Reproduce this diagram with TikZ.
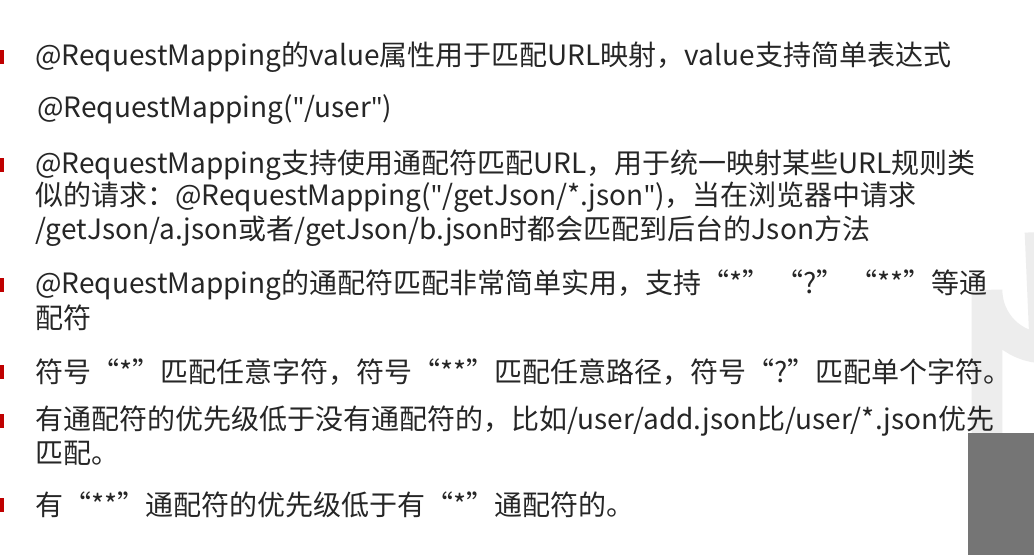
\documentclass[tikz,border=0pt]{standalone}
\usepackage{fontspec}
\setmainfont{Noto Sans CJK SC}
\newfontfamily\latinq{Noto Sans}
\newcommand{\dq}{{\latinq\symbol{"22}}}
\begin{document}
\begin{tikzpicture}[x=0.75pt,y=-0.75pt,
  ln/.style={anchor=west,inner sep=0pt,font=\fontsize{21}{24}\selectfont,text=black!85},
  bul/.style={fill=red!75!black,minimum width=3pt,minimum height=10pt,inner sep=0pt}]
\useasboundingbox[fill=white] (0,0) rectangle (1034,555);
\draw[line width=23pt,draw=black!7] (987,555) -- (987,290) arc[start angle=180,end angle=90,radius=58] -- (1040,232);
\fill[fill=gray!80!black!90] (968,433) rectangle (1034,555);
\foreach \i/\y in {1/57,2/165,3/285,4/372,5/421,6/505}{\node[bul] (b\i) at (2,\y) {};}
\node[ln] (l1) at (35,57) {@RequestMapping的value属性用于匹配URL映射，value支持简单表达式};
\node[ln] (l2) at (37,110) {@RequestMapping(\dq/user\dq)};
\node[ln] (l3) at (35,165) {@RequestMapping支持使用通配符匹配URL，用于统一映射某些URL规则类};
\node[ln] (l4) at (35,197) {似的请求：@RequestMapping(\dq/getJson/*.json\dq)，当在浏览器中请求};
\node[ln] (l5) at (35,231) {/getJson/a.json或者/getJson/b.json时都会匹配到后台的Json方法};
\node[ln] (l6) at (35,285) {@RequestMapping的通配符匹配非常简单实用，支持“*”\,“?”\,“**”等通};
\node[ln] (l7) at (35,318) {配符};
\node[ln] (l8) at (35,372) {符号“*”匹配任意字符，符号“**”匹配任意路径，符号“?”匹配单个字符。};
\node[ln] (l9) at (35,421) {有通配符的优先级低于没有通配符的，比如/user/add.json比/user/*.json优先};
\node[ln] (l10) at (35,453) {匹配。};
\node[ln] (l11) at (35,505) {有“**”通配符的优先级低于有“*”通配符的。};
\end{tikzpicture}
\end{document}
